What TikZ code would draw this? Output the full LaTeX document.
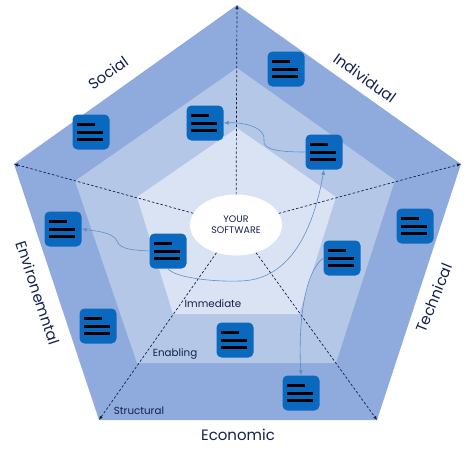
\documentclass[tikz,border=0pt]{standalone}
\usepackage{fontspec}
\setmainfont{Poppins}
\usetikzlibrary{arrows.meta,shapes.geometric}
\definecolor{outerblue}{HTML}{8FAADC}
\definecolor{midblue}{HTML}{B4C7E7}
\definecolor{innerblue}{HTML}{DAE3F3}
\definecolor{iconblue}{HTML}{0A69BE}
\definecolor{navytext}{HTML}{14214D}
\definecolor{linkblue}{HTML}{5F8FC4}
\tikzset{
  docicon/.style={fill=iconblue, rounded corners=5pt, minimum width=37pt, minimum height=35pt, inner sep=0pt,
    path picture={
      \fill[black, sharp corners] ([shift={(-14pt,5.7pt)}]path picture bounding box.center) rectangle ++(18pt,3pt);
      \fill[black, sharp corners] ([shift={(-14pt,-1.5pt)}]path picture bounding box.center) rectangle ++(26pt,3pt);
      \fill[black, sharp corners] ([shift={(-14pt,-8.7pt)}]path picture bounding box.center) rectangle ++(26pt,3pt);
    }},
  axisline/.style={navytext, line width=0.7pt, dashed, dash pattern=on 2.5pt off 2pt, -{Latex[length=4pt,width=3.5pt]}},
  linkline/.style={linkblue, line width=0.6pt, -{Latex[length=5pt,width=4pt]}},
  sidelabel/.style={text=navytext, font=\fontsize{15}{15}\selectfont},
  ringlabel/.style={text=navytext, font=\fontsize{10.3}{11}\selectfont}
}
\begin{document}
\begin{tikzpicture}[x=1pt, y=-1pt]
  \useasboundingbox (0,0) rectangle (474,455);
  \fill[outerblue] (237,5) -- (461,164) -- (377,420) -- (99,420) -- (14,164) -- cycle;
  \fill[midblue] (237,68) -- (395,180) -- (336,363) -- (137,363) -- (75,181) -- cycle;
  \fill[innerblue] (237,128) -- (336,197) -- (299,314) -- (173,314) -- (137,197) -- cycle;
  % corners of the pentagon
  \coordinate (vtop) at (237,5);
  \coordinate (vright) at (461,164);
  \coordinate (vbr) at (377,420);
  \coordinate (vbl) at (99,420);
  \coordinate (vleft) at (14,164);
  \node[ellipse, fill=white, minimum width=92pt, minimum height=61pt, inner sep=0pt, text=navytext,
    align=center, font=\fontsize{9.5}{11}\selectfont] (soft) at (236,225) {YOUR\\SOFTWARE};
  \foreach \v in {vtop,vright,vbr,vbl,vleft} \draw[axisline] (soft) -- (\v);
  \foreach \name/\px/\py in {social/91/132, immtop/205/123, indiv/286/69, immright/324/152, tech/415/226,
    enabright/342/258, econ/301/393, envir/98/326, envtop/63/229, immleft/168/251, immbot/235/340}
    \node[docicon] (\name) at (\px,\py) {};
  % links between the icons
  \draw[linkline] (immright.west) .. controls (280,152) and (262,150) .. (264,140)
    .. controls (266,128) and (245,122) .. (immtop.east);
  \draw[linkline] (immleft.west) .. controls (135,250) and (120,250) .. (117,241)
    .. controls (113,232) and (95,231) .. (envtop.east);
  \draw[linkline] (immleft.south) .. controls (175,278) and (215,282) .. (240,281)
    .. controls (295,280) and (315,220) .. (immright.south);
  \draw[linkline] (enabright.west) .. controls (305,272) and (298,320) .. (econ.north);
  % side and ring labels
  \node[sidelabel, rotate=36] (lsocial) at (108,73) {Social};
  \node[sidelabel, rotate=-36] (lindiv) at (365,78) {Individual};
  \node[sidelabel, rotate=68] (ltech) at (434,298) {Technical};
  \node[sidelabel, rotate=-72] (lenv) at (38,293) {Environemntal};
  \node[sidelabel] (lecon) at (238,435) {Economic};
  \node[ringlabel] (limm) at (213,304) {Immediate};
  \node[ringlabel] (lenab) at (175,354) {Enabling};
  \node[ringlabel] (lstruct) at (139,411) {Structural};
\end{tikzpicture}
\end{document}
